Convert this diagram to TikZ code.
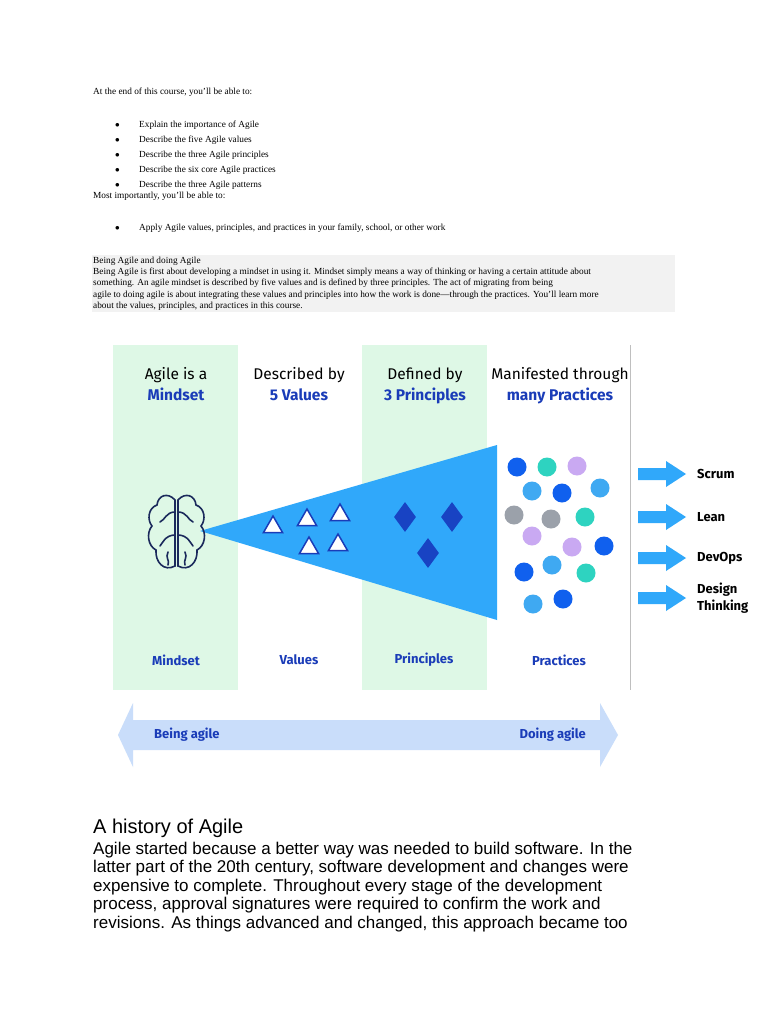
\documentclass[tikz,border=0pt]{standalone}
\usepackage{fontspec}
\setmainfont{Liberation Serif}
\newfontfamily\plexf{Fira Sans}
\newfontfamily\arialf{Liberation Sans}
\usetikzlibrary{shapes.geometric}
\definecolor{dkblue}{HTML}{1A3CB8}
\definecolor{cone}{HTML}{30A8FA}
\definecolor{mint}{HTML}{DEF8E6}
\definecolor{cblue}{HTML}{1060EE}
\definecolor{cteal}{HTML}{2ED3C0}
\definecolor{clav}{HTML}{C9A9F2}
\definecolor{clight}{HTML}{3FA9F2}
\definecolor{cgray}{HTML}{9BA1AA}
\definecolor{arrowbg}{HTML}{C9DDFA}
\definecolor{navy}{HTML}{1B2A5C}
\begin{document}
\begin{tikzpicture}[x=1pt,y=-1pt,
  body/.style={anchor=west,inner sep=0,font=\fontsize{9.3}{10}\selectfont},
  hdr/.style={align=center,inner sep=0,anchor=base,font=\plexf\fontsize{15.5}{21}\selectfont},
  bot/.style={inner sep=0,text=dkblue,font=\plexf\bfseries\fontsize{13}{15}\selectfont},
  rlab/.style={anchor=west,inner sep=0,align=left,font=\plexf\bfseries\fontsize{13}{17}\selectfont},
  tri/.style={regular polygon,regular polygon sides=3,draw=dkblue,fill=white,line width=1.5pt,minimum size=22pt,inner sep=0},
  dia/.style={diamond,fill=dkblue!80!cblue,minimum width=22pt,minimum height=30pt,inner sep=0},
  dot/.style={circle,minimum width=17pt,minimum height=19pt,inner sep=0},
  para/.style={anchor=west,inner sep=0,font=\arialf\fontsize{17}{18}\selectfont}]
\useasboundingbox (0,0) rectangle (768,1024);
\fill[white] (0,0) rectangle (768,1024);
% top text
\node[body] (t0) at (93,92) {At the end of this course, you'll be able to:};
\foreach \y/\t [count=\i] in {125/Explain the importance of Agile,140/Describe the five Agile values,155/Describe the three Agile principles,170/Describe the six core Agile practices,185/Describe the three Agile patterns}{
  \node[body] (b\i) at (115,\y) {$\bullet$};
  \node[body] (l\i) at (139,\y) {\t};}
\node[body] (t1) at (93,196) {Most importantly, you'll be able to:};
\node[body] (b6) at (115,228) {$\bullet$};
\node[body] (l6) at (139,228) {Apply Agile values, principles, and practices in your family, school, or other work};
\fill[black!5] (92,255) rectangle (675,312);
\node[body] (g1) at (93,261) {Being Agile and doing Agile};
\node[body] (g2) at (93,272) {Being Agile is first about developing a mindset in using it. Mindset simply means a way of thinking or having a certain attitude about};
\node[body] (g3) at (93,283) {something. An agile mindset is described by five values and is defined by three principles. The act of migrating from being};
\node[body] (g4) at (93,295) {agile to doing agile is about integrating these values and principles into how the work is done---through the practices. You'll learn more};
\node[body] (g5) at (93,306) {about the values, principles, and practices in this course.};
% diagram columns
\fill[mint] (113,345) rectangle (238,690);
\fill[mint] (362,345) rectangle (487,690);
\draw[black!25,line width=0.8pt] (630,345) -- (630,690);
\node[hdr] (h1) at (176,400) {Agile is a\\\textcolor{dkblue}{\bfseries Mindset}};
\node[hdr] (h2) at (299,400) {Described by\\\textcolor{dkblue}{\bfseries 5 Values}};
\node[hdr] (h3) at (425,400) {Defined by\\\textcolor{dkblue}{\bfseries 3 Principles}};
\node[hdr] (h4) at (560,400) {Manifested through\\\textcolor{dkblue}{\bfseries many Practices}};
% cone
\fill[cone] (200,531) -- (497,445) -- (497,620) -- cycle;
% brain
\begin{scope}[navy,line width=1.6pt,line cap=round]
\draw (175,500) .. controls (168,492) and (158,495) .. (157,505) .. controls (148,508) and (147,520) .. (152,526) .. controls (146,533) and (148,546) .. (156,550) .. controls (155,562) and (164,572) .. (175,566) -- cycle;
\draw (178,500) .. controls (185,492) and (195,495) .. (196,505) .. controls (205,508) and (206,520) .. (201,526) .. controls (207,533) and (205,546) .. (197,550) .. controls (198,562) and (189,572) .. (178,566) -- cycle;
\draw (175,512) .. controls (166,512) and (165,520) .. (160,522);
\draw (175,535) .. controls (165,535) and (162,544) .. (160,546);
\draw (168,552) .. controls (165,558) and (170,560) .. (168,565);
\draw (178,512) .. controls (187,512) and (188,520) .. (193,522);
\draw (178,535) .. controls (188,535) and (191,544) .. (193,546);
\draw (185,552) .. controls (188,558) and (183,560) .. (185,565);
\end{scope}
% triangles
\foreach \x/\y [count=\i] in {273/527,307/520,340/515,309/548,338/545}
  \node[tri] (v\i) at (\x,\y) {};
\foreach \x/\y [count=\i] in {405/517,452/517,428/553}
  \node[dia] (p\i) at (\x,\y) {};
% dots
\foreach \x/\y/\c [count=\i] in {517/467/cblue,547/467/cteal,577/466/clav,532/491/clight,562/493/cblue,600/488/clight,514/515/cgray,551/519/cgray,585/517/cteal,532/536/clav,572/547/clav,604/546/cblue,524/572/cblue,552/565/clight,586/573/cteal,533/604/clight,563/599/cblue}
  \node[dot,fill=\c] (d\i) at (\x,\y) {};
% right arrows
\foreach \y/\t [count=\i] in {474/Scrum,517/Lean,558/DevOps,598/{Design\\Thinking}}{
  \fill[cone] (638,\y-6) -- (666,\y-6) -- (666,\y-13) -- (686,\y) -- (666,\y+13) -- (666,\y+6) -- (638,\y+6) -- cycle;
  \node[rlab] (r\i) at (697,\y) {\t};}
% bottom labels
\node[bot] (m1) at (176,660) {Mindset};
\node[bot] (m2) at (299,660) {Values};
\node[bot] (m3) at (424,660) {Principles};
\node[bot] (m4) at (559,660) {Practices};
% double arrow
\fill[arrowbg] (118,735) -- (133,703) -- (133,720) -- (600,720) -- (600,703) -- (618,735) -- (600,767) -- (600,750) -- (133,750) -- (133,767) -- cycle;
\node[bot,anchor=west] (ba) at (154,735) {Being agile};
\node[bot,anchor=east] (da) at (586,735) {Doing agile};
% history
\node[anchor=west,inner sep=0,font=\arialf\fontsize{20}{22}\selectfont] (hist) at (93,828) {A history of Agile};
\node[para] (q1) at (93,850) {Agile started because a better way was needed to build software. In the};
\node[para] (q2) at (93,868) {latter part of the 20th century, software development and changes were};
\node[para] (q3) at (93,887) {expensive to complete. Throughout every stage of the development};
\node[para] (q4) at (93,905) {process, approval signatures were required to confirm the work and};
\node[para] (q5) at (93,924) {revisions. As things advanced and changed, this approach became too};
\end{tikzpicture}
\end{document}
